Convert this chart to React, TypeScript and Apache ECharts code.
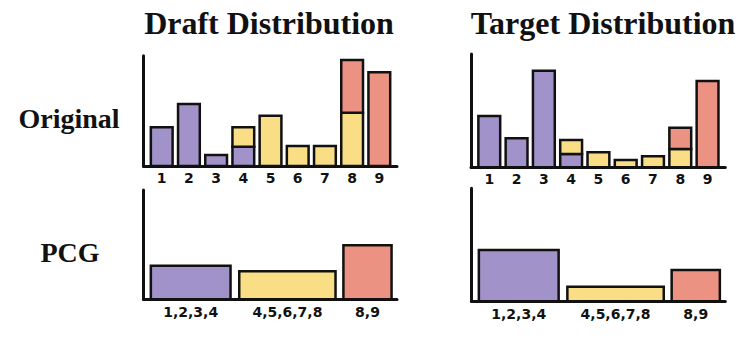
import React, { useEffect, useRef } from "react";
import * as echarts from "echarts";

// ---- data ----
const categories = ["1", "2", "3", "4", "5", "6", "7", "8", "9"];
const categoryPositions = [1, 2, 3, 4, 5, 6, 7, 8, 9];

const draftPurple = [38.7, 62, 11, 19.3, 0, 0, 0, 0, 0];
const draftYellow = [0, 0, 0, 19.4, 50.3, 20, 20, 53.3, 0];
const draftRed = [0, 0, 0, 0, 0, 0, 0, 52.7, 93.7];

const targetPurple = [51.3, 29, 96.6, 13.3, 0, 0, 0, 0, 0];
const targetYellow = [0, 0, 0, 14, 15, 7.3, 11, 18.3, 0];
const targetRed = [0, 0, 0, 0, 0, 0, 0, 21.3, 86.3];

const groupLabels = ["1,2,3,4", "4,5,6,7,8", "8,9"];
const groupStart = [0.6, 3.85, 7.68];
const groupEnd = [3.53, 7.39, 9.45];
const draftGroup = [33.6, 28, 54];
const targetGroup = [51.3, 14.6, 31.3];

const columnTitles = ["Draft Distribution", "Target Distribution"];
const rowTitles = ["Original", "PCG"];

// ---- styles ----
const PURPLE = "#a192c9";
const YELLOW = "#f9de86";
const RED = "#ec9283";
const groupColors = [PURPLE, YELLOW, RED];
const INK = "#111111";
const BAR_HALF = 0.4; // half bar width in category units

const panels = [
  { left: 143.5, top: 55.7, width: 253.5, height: 110.3 },
  { left: 471, top: 54, width: 254.3, height: 113.3 },
  { left: 143.5, top: 190, width: 253.5, height: 109.3 },
  { left: 471.5, top: 188.3, width: 253.8, height: 113 },
];

const groupCenters = groupStart.map((s, i) => (s + groupEnd[i]) / 2);

function nearestIndex(arr: number[], v: number) {
  let best = 0;
  for (let i = 1; i < arr.length; i++) {
    if (Math.abs(arr[i] - v) < Math.abs(arr[best] - v)) best = i;
  }
  return best;
}

// stacked segments: [xStart, xEnd, base, top, colorIndex]
function stackedSegments(sets: number[][]) {
  const out: number[][] = [];
  categoryPositions.forEach((x, i) => {
    let base = 0;
    sets.forEach((vals, k) => {
      const v = vals[i];
      if (v > 0) {
        out.push([x - BAR_HALF, x + BAR_HALF, base, base + v, k]);
        base += v;
      }
    });
  });
  return out;
}

function buildOption() {
  const grids = panels.map((p) => ({
    left: p.left,
    top: p.top,
    width: p.width,
    height: p.height,
    containLabel: false,
  }));

  const xAxes = panels.map((_, i) => {
    const isTop = i < 2;
    return {
      type: "value",
      gridIndex: i,
      min: 0.33,
      max: 9.65,
      splitLine: { show: false },
      axisTick: { show: false },
      axisLine: { show: true, lineStyle: { color: INK, width: 3 } },
      axisLabel: {
        show: true,
        customValues: isTop ? categoryPositions : groupCenters,
        formatter: (v: number) =>
          isTop
            ? categories[nearestIndex(categoryPositions, v)]
            : groupLabels[nearestIndex(groupCenters, v)],
        margin: isTop ? 5 : 6,
        color: INK,
        fontFamily: "DejaVu Sans",
        fontWeight: "bold",
        fontSize: 14,
        hideOverlap: false,
      },
    };
  });

  const yAxes = panels.map((p, i) => ({
    type: "value",
    gridIndex: i,
    min: 0,
    max: p.height,
    splitLine: { show: false },
    axisTick: { show: false },
    axisLabel: { show: false },
    axisLine: { show: true, lineStyle: { color: INK, width: 3 } },
  }));

  const rectSeries = (gi: number, data: number[][]) => ({
    type: "custom",
    xAxisIndex: gi,
    yAxisIndex: gi,
    encode: { x: [0, 1], y: [2, 3] },
    data,
    renderItem: (params: any, api: any) => {
      const s = api.value(0);
      const e = api.value(1);
      const b = api.value(2);
      const t = api.value(3);
      const k = api.value(4);
      const p0 = api.coord([s, t]);
      const p1 = api.coord([e, b]);
      return {
        type: "rect",
        shape: { x: p0[0], y: p0[1], width: p1[0] - p0[0], height: p1[1] - p0[1] },
        style: { fill: groupColors[k], stroke: INK, lineWidth: 2.5 },
      };
    },
  });

  const groupData = (values: number[]) =>
    values.map((v, i) => [groupStart[i], groupEnd[i], 0, v, i]);

  const titleFont = 'bold 32px "Liberation Serif"';
  const rowFont = 'bold 28px "Liberation Serif"';

  return {
    animation: false,
    backgroundColor: "#ffffff",
    grid: grids,
    xAxis: xAxes,
    yAxis: yAxes,
    series: [
      rectSeries(0, stackedSegments([draftPurple, draftYellow, draftRed])),
      rectSeries(1, stackedSegments([targetPurple, targetYellow, targetRed])),
      rectSeries(2, groupData(draftGroup)),
      rectSeries(3, groupData(targetGroup)),
    ],
    graphic: [
      { type: "text", x: 269, y: 23, style: { text: columnTitles[0], font: titleFont, fill: INK, align: "center", verticalAlign: "middle" } },
      { type: "text", x: 603, y: 23, style: { text: columnTitles[1], font: titleFont, fill: INK, align: "center", verticalAlign: "middle" } },
      { type: "text", x: 69, y: 118, style: { text: rowTitles[0], font: rowFont, fill: INK, align: "center", verticalAlign: "middle" } },
      { type: "text", x: 70, y: 252, style: { text: rowTitles[1], font: rowFont, fill: INK, align: "center", verticalAlign: "middle" } },
    ],
  };
}

export default function App() {
  const ref = useRef<HTMLDivElement>(null);
  useEffect(() => {
    if (!ref.current) return;
    const chart = echarts.init(ref.current, undefined, { renderer: "svg" });
    chart.setOption(buildOption() as any);
    return () => chart.dispose();
  }, []);
  return (
    <div
      ref={ref}
      style={{ position: "fixed", left: 0, top: 0, width: 743, height: 364, background: "#fff" }}
    />
  );
}
